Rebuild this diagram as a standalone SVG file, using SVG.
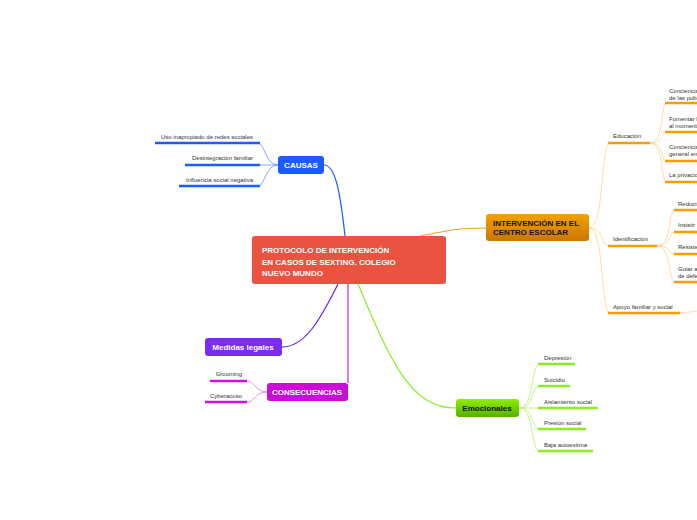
<svg xmlns="http://www.w3.org/2000/svg" width="697" height="520" viewBox="0 0 697 520">
<style>
text{font-family:"Liberation Sans",Arial,sans-serif;font-size:6px;fill:#333}
.t{font-weight:bold;font-size:8px;fill:#fff}
.c{fill:none;stroke-width:1.2}
.u{stroke-width:2.5;fill:none}
</style>
<defs>
<linearGradient id="go" x1="0" y1="0" x2="0" y2="1"><stop offset="0" stop-color="#f5a000"/><stop offset="1" stop-color="#c97800"/></linearGradient>
<linearGradient id="gg" x1="0" y1="0" x2="0" y2="1"><stop offset="0" stop-color="#8ef000"/><stop offset="1" stop-color="#55b000"/></linearGradient>
</defs>
<rect width="697" height="520" fill="#fff"/>
<g id="connectors">
<path class="c" stroke="#1a5cff" d="M345 236 C340 190 335 165 324 165"/>
<path class="c" stroke="#6a1ff0" d="M338 284 C320 320 305 347 282 347"/>
<path class="c" stroke="#d020e0" d="M348 284 L348 383"/>
<path class="c" stroke="#88ee22" d="M358 284 C390 360 410 408 456 408"/>
<path class="c" stroke="#f5a030" d="M420 236 C450 230 460 228 486 228"/>
<g stroke="#6d8dff" fill="none" stroke-width="0.8">
<path d="M278 165 C265 165 265 143 258 143"/><path d="M278 165 L258 165"/><path d="M278 165 C265 165 265 186 258 186"/>
</g>
<g stroke="#1a5cff" class="u"><path d="M155 143 H260"/><path d="M185 165 H260"/><path d="M179 186 H260"/></g>
<g stroke="#e070f0" fill="none" stroke-width="0.8"><path d="M267 392 C255 392 255 381 247 381"/><path d="M267 392 C255 392 255 402 247 402"/></g>
<g stroke="#d010e0" class="u"><path d="M210 381 H247"/><path d="M205 402 H247"/></g>
<g stroke="#ffd090" fill="none" stroke-width="0.8">
<path d="M589 228 C605 228 600 143 610 143"/><path d="M589 228 C605 228 600 246 610 246"/><path d="M589 228 C605 228 600 313 610 313"/>
<path d="M650 143 C665 143 660 103 667 103"/><path d="M650 143 C665 143 660 132 667 132"/><path d="M650 143 C665 143 660 161 667 161"/><path d="M650 143 C665 143 660 182 667 182"/>
<path d="M657 246 C672 246 668 210 675 210"/><path d="M657 246 C672 246 668 232 675 232"/><path d="M657 246 C672 246 668 254 675 254"/><path d="M657 246 C672 246 668 282 675 282"/>
<path d="M680 313 C690 313 690 311 697 311"/>
</g>
<g stroke="#ff9a00" class="u">
<path d="M608 143 H650"/><path d="M608 246 H657"/><path d="M608 313 H680"/>
<path d="M665 103 H697"/><path d="M665 132 H697"/><path d="M665 161 H697"/><path d="M665 182 H697"/>
<path d="M674 210 H697"/><path d="M674 232 H697"/><path d="M674 254 H697"/><path d="M674 282 H697"/>
</g>
<g stroke="#b8f070" fill="none" stroke-width="0.8">
<path d="M519 408 C535 408 530 364 540 364"/><path d="M519 408 C535 408 530 386 540 386"/><path d="M519 408 L540 408"/><path d="M519 408 C535 408 530 429 540 429"/><path d="M519 408 C535 408 530 451 540 451"/>
</g>
<g stroke="#88ee22" class="u"><path d="M538 364 H575"/><path d="M538 386 H570"/><path d="M538 408 H598"/><path d="M538 429 H586"/><path d="M538 451 H593"/></g>
</g>
<g id="central"><rect x="252" y="236" width="194" height="48" rx="3" fill="#e9533f"/>
<text class="t" x="262" y="253" font-size="8.5">PROTOCOLO DE INTERVENCIÓN</text><text class="t" x="262" y="265">EN CASOS DE SEXTING. COLEGIO</text><text class="t" x="262" y="276">NUEVO MUNDO</text></g>
<g id="causas"><rect x="278" y="156" width="46" height="18" rx="3" fill="#1a5cff"/><text class="t" x="301" y="168" text-anchor="middle" font-size="7">CAUSAS</text></g>
<g id="causas-items"><text x="253" y="139" text-anchor="end">Uso inapropiado de redes sociales</text><text x="253" y="160" text-anchor="end">Desintegración familiar</text><text x="253" y="182" text-anchor="end">Influencia social negativa</text></g>
<g id="medidas"><rect x="205" y="338" width="77" height="18" rx="3" fill="#7a2cf5"/><text class="t" x="243" y="350" text-anchor="middle" font-size="7">Medidas legales</text></g>
<g id="consecuencias"><rect x="267" y="383" width="81" height="18" rx="3" fill="#c90cd6"/><text class="t" x="307" y="395" text-anchor="middle" font-size="7">CONSECUENCIAS</text>
<text x="242" y="376" text-anchor="end">Grooming</text><text x="242" y="398" text-anchor="end">Cyberacoso</text></g>
<g id="intervencion"><rect x="486" y="214" width="103" height="27" rx="3" fill="url(#go)"/><text class="t" x="493" y="226" style="fill:#111" font-size="7">INTERVENCIÓN EN EL</text><text class="t" x="493" y="235" style="fill:#111" font-size="7">CENTRO ESCOLAR</text>
<text x="613" y="138">Educación</text><text x="613" y="241">Identificación</text><text x="613" y="309">Apoyo familiar y social</text>
<text x="669" y="93">Concienciar sobre los riesgos</text><text x="669" y="100">de las publicaciones</text>
<text x="669" y="121">Fomentar la reflexión</text><text x="669" y="128">al momento de publicar</text>
<text x="669" y="149">Concienciar a la población en</text><text x="669" y="156">general en su totalidad</text>
<text x="669" y="177">La privacidad</text>
<text x="678" y="206">Reducir</text><text x="678" y="227">Insistir</text><text x="678" y="249">Resistencia</text>
<text x="678" y="271">Guiar a</text><text x="678" y="278">de defensa</text></g>
<g id="emocionales"><rect x="456" y="399" width="63" height="18" rx="3" fill="url(#gg)"/><text class="t" x="487" y="411" text-anchor="middle" style="fill:#111" font-size="7">Emocionales</text>
<text x="544" y="360">Depresión</text><text x="544" y="382">Suicidio</text><text x="544" y="404">Aislamiento social</text><text x="544" y="425">Presión social</text><text x="544" y="447">Baja autoestima</text></g>
</svg>
